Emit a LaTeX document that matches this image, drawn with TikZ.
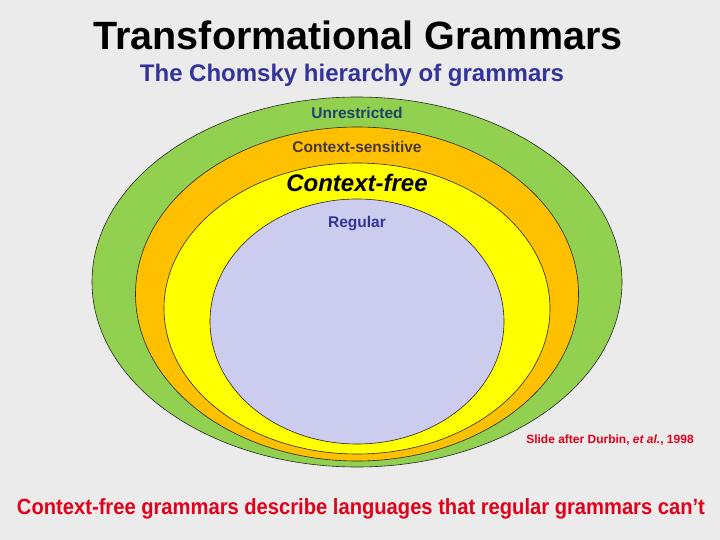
\documentclass[tikz,border=0pt]{standalone}
\usepackage{fontspec}
\setmainfont{Liberation Sans}
\usepackage{graphicx}
\usetikzlibrary{shapes.geometric, positioning}
\usepackage{xcolor}

\definecolor{bggray}{HTML}{EBEBEB}
\definecolor{ringgreen}{HTML}{92D050}
\definecolor{ringorange}{HTML}{FFC000}
\definecolor{ringyellow}{HTML}{FFFF00}
\definecolor{ringlav}{HTML}{CCCCEE}
\definecolor{subblue}{HTML}{333399}
\definecolor{unresblue}{HTML}{1F4368}
\definecolor{csbrown}{HTML}{46383A}
\definecolor{notered}{HTML}{E2001A}

\begin{document}
\begin{tikzpicture}[
x=1pt, y=-1pt,
ring/.style={draw=black!85, line width=0.6pt, ellipse, inner sep=0pt},
lbl/.style={font=\bfseries\fontsize{15.5}{18}\selectfont, inner sep=0pt} ]

\fill[bggray] (0,0) rectangle (720,540);
\useasboundingbox (0,0) rectangle (720,540);

\node[inner sep=0pt, font=\bfseries\fontsize{39.5}{44}\selectfont] (title) at (358,35) {Transformational Grammars};
\node[inner sep=0pt, text=subblue, font=\bfseries\fontsize{24}{28}\selectfont] (subtitle) at (352,75) {The Chomsky hierarchy of grammars};

\node[ring, fill=ringgreen, minimum width=530pt, minimum height=370pt] (unres) at (357,282) {};
\node[ring, fill=ringorange, minimum width=443pt, minimum height=334pt] (cs) at (357,294) {};
\node[ring, fill=ringyellow, minimum width=386pt, minimum height=291pt] (cf) at (357,308.5) {};
\node[ring, fill=ringlav, minimum width=294pt, minimum height=245pt] (reg) at (357,321.5) {};

\node[lbl, text=unresblue] (unreslbl) at (357,113) {Unrestricted};
\node[lbl, text=csbrown] (cslbl) at (357,147) {Context-sensitive};
\node[inner sep=0pt, font=\bfseries\itshape\fontsize{24}{28}\selectfont] (cflbl) at (357,183) {Context-free};
\node[lbl, text=subblue] (reglbl) at (357,224) {Regular};

\node[inner sep=0pt, text=notered, font=\bfseries\fontsize{12}{14}\selectfont] (credit) at (610,440) {Slide after Durbin, \textit{et al.}, 1998};
\node[inner sep=0pt, text=notered, font=\bfseries\fontsize{22}{26}\selectfont] (punch) at (361,509) {\resizebox{688pt}{\height}{Context-free grammars describe languages that regular grammars can’t}};

\end{tikzpicture}
\end{document}
